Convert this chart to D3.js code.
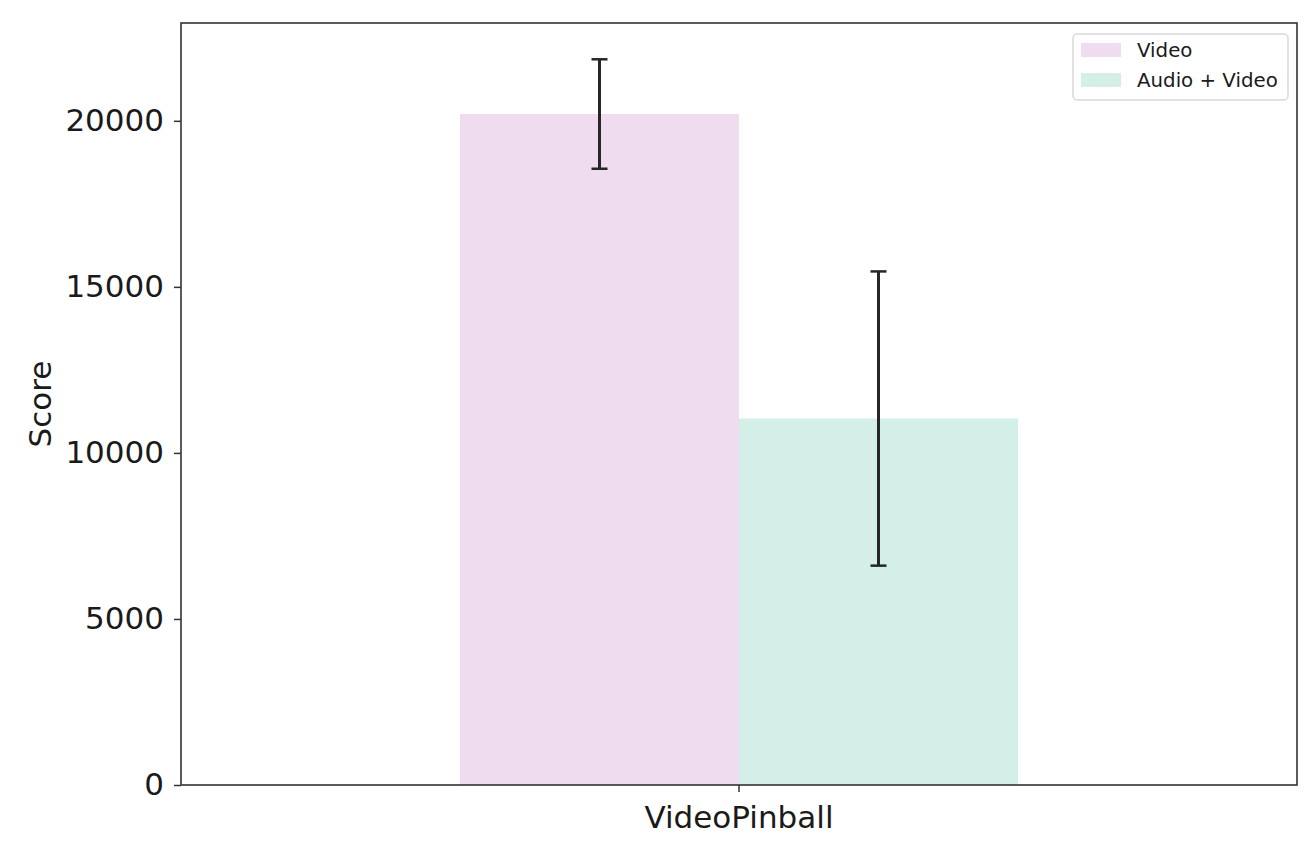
<!DOCTYPE html>
<html>
<head>
<meta charset="utf-8">
<script src="https://cdn.jsdelivr.net/npm/d3@7"></script>
<style>
  body { margin: 0; background: #fff; }
  svg { font-family: "DejaVu Sans", sans-serif; }
</style>
</head>
<body>
<svg id="chart" width="1314" height="850"></svg>
<script>
// Data
const categories = ["VideoPinball"];
const seriesNames = ["Video", "Audio + Video"];
const seriesColors = ["#f0dcef", "#d4eee8"];
const videoMeans = [20205];
const videoErrors = [1648];
const audioVideoMeans = [11035];
const audioVideoErrors = [4430];
const yTicks = [0, 5000, 10000, 15000, 20000];

const margin = { left: 181, right: 17, top: 23, bottom: 65 };
const width = 1314 - margin.left - margin.right;
const height = 850 - margin.top - margin.bottom;

const svg = d3.select("#chart");
const g = svg.append("g")
	.attr("transform", "translate(" + margin.left + "," + margin.top + ")");

// Build rows from arrays
const rows = [];
categories.forEach((c, i) => {
	rows.push({ cat: c, series: seriesNames[0], mean: videoMeans[i], err: videoErrors[i] });
	rows.push({ cat: c, series: seriesNames[1], mean: audioVideoMeans[i], err: audioVideoErrors[i] });
});

const yMax = d3.max(rows, d => d.mean + d.err) * 1.05;
const y = d3.scaleLinear().domain([0, yMax]).range([height, 0]);

// one category taking up half the width, bars split inside
const x = d3.scaleBand().domain(categories).range([0, width]).paddingInner(0).paddingOuter(0.5);
const xSub = d3.scaleBand().domain(seriesNames).range([0, x.bandwidth()]);
const color = d3.scaleOrdinal().domain(seriesNames).range(seriesColors);

// Bars
g.selectAll("rect.bar")
	.data(rows)
	.join("rect")
		.attr("class", "bar")
		.attr("x", d => x(d.cat) + xSub(d.series))
		.attr("y", d => y(d.mean))
		.attr("width", xSub.bandwidth())
		.attr("height", d => height - y(d.mean))
		.attr("fill", d => color(d.series));

// Error bars
const capHalf = 8;
const errs = g.selectAll("g.err")
	.data(rows)
	.join("g")
		.attr("class", "err")
		.attr("stroke", "#262626")
		.attr("stroke-width", 3);
errs.append("line")
	.attr("x1", d => x(d.cat) + xSub(d.series) + xSub.bandwidth() / 2)
	.attr("x2", d => x(d.cat) + xSub(d.series) + xSub.bandwidth() / 2)
	.attr("y1", d => y(d.mean + d.err))
	.attr("y2", d => y(d.mean - d.err));
errs.selectAll("line.cap")
	.data(d => [d.mean + d.err, d.mean - d.err].map(v => ({ v: v, cx: x(d.cat) + xSub(d.series) + xSub.bandwidth() / 2 })))
	.join("line")
		.attr("class", "cap")
		.attr("x1", d => d.cx - capHalf)
		.attr("x2", d => d.cx + capHalf)
		.attr("y1", d => y(d.v))
		.attr("y2", d => y(d.v))
		.attr("stroke-width", 2.5);

// Axes
const yAxis = g.append("g")
	.call(d3.axisLeft(y).tickValues(yTicks).tickFormat(d3.format("d")).tickSizeOuter(0).tickSize(7).tickPadding(10));
const xAxis = g.append("g")
	.attr("transform", "translate(0," + height + ")")
	.call(d3.axisBottom(x).tickSizeOuter(0).tickSize(7).tickPadding(8));

[yAxis, xAxis].forEach(a => {
	a.select(".domain").remove();
	a.selectAll("line").attr("stroke", "#333").attr("stroke-width", 1.5);
	a.selectAll("text")
		.style("font-family", "DejaVu Sans")
		.style("font-size", "31px")
		.attr("fill", "#1a1a1a");
});
xAxis.selectAll("text").attr("dy", "0.9em");

// Frame
g.append("rect")
	.attr("width", width)
	.attr("height", height)
	.attr("fill", "none")
	.attr("stroke", "#333")
	.attr("stroke-width", 1.6);

// Y label
svg.append("text")
	.attr("transform", "translate(51," + (margin.top + height / 2) + ")rotate(-90)")
	.attr("text-anchor", "middle")
	.style("font-size", "31px")
	.attr("fill", "#1a1a1a")
	.text("Score");

// Legend
const legend = svg.append("g").attr("transform", "translate(1073,34)");
legend.append("rect")
	.attr("width", 215)
	.attr("height", 66)
	.attr("rx", 4)
	.attr("fill", "#fff")
	.attr("fill-opacity", 0.8)
	.attr("stroke", "#d9d9d9")
	.attr("stroke-width", 1.5);
const items = legend.selectAll("g.item")
	.data(seriesNames)
	.join("g")
		.attr("class", "item")
		.attr("transform", (d, i) => "translate(8," + (9 + i * 30) + ")");
items.append("rect")
	.attr("width", 40)
	.attr("height", 14)
	.attr("fill", d => color(d));
items.append("text")
	.attr("x", 56)
	.attr("y", 7)
	.attr("dy", "0.35em")
	.style("font-size", "19.8px")
	.attr("fill", "#1a1a1a")
	.text(d => d);
</script>
</body>
</html>
